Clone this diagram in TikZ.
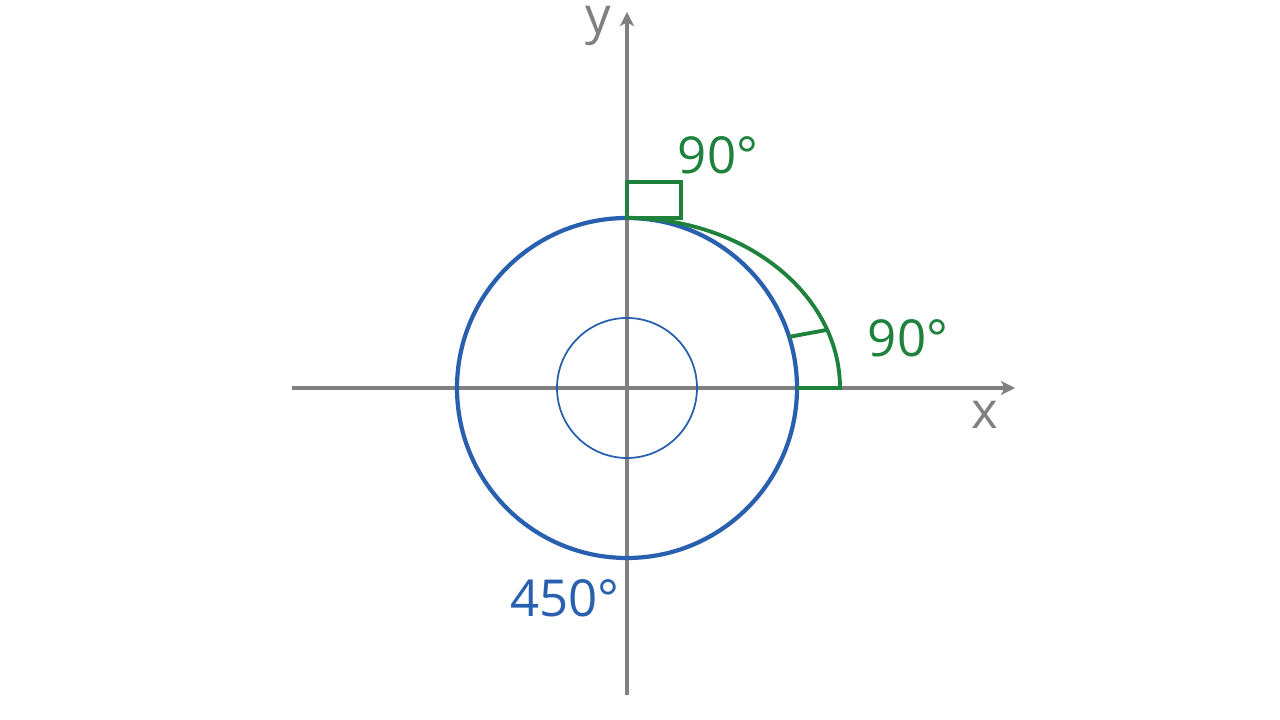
\documentclass[tikz,border=0pt]{standalone}
\usepackage{fontspec}
\setmainfont{Open Sans}
\usetikzlibrary{arrows.meta}
\definecolor{axisgray}{RGB}{128,128,128}
\definecolor{turnblue}{RGB}{40,95,175}
\definecolor{anglegreen}{RGB}{30,130,60}
\tikzset{
    axis/.style={draw=axisgray,line width=0.9pt,-{Stealth[length=4pt,width=4pt,inset=1pt]}},
    greenline/.style={draw=anglegreen,line width=1.1pt},
    lbl/.style={font=\fontsize{14.5}{16}\selectfont},
}
\begin{document}
\begin{tikzpicture}
        \useasboundingbox (-6.27,-3.32) rectangle (6.53,3.88);
        \coordinate (xl) at (-3.35,0);
        \coordinate (xr) at (3.88,0);
        \coordinate (yb) at (0,-3.07);
        \coordinate (yt) at (0,3.76);
        \draw [axis] (xl) -- (xr);
        \draw [axis] (yb) -- (yt);
        \node [lbl,text=axisgray] (xlab) at (3.58,-0.27) {x};
        \node [lbl,text=axisgray] (ylab) at (-0.29,3.62) {y};
        \draw [turnblue,line width=1.2pt] (0,0) circle (1.70);
        \draw [turnblue,line width=0.5pt] (0,0) circle (0.70);
        \draw [greenline] (0,1.70) arc [start angle=90,end angle=0,x radius=2.13,y radius=1.70] -- (1.70,0);
        \draw [greenline] (0,1.70) rectangle (0.54,2.06);
        \draw [greenline] (17.5:1.70) -- ({2.13*cos(20)},{1.70*sin(20)});
        \node [lbl,text=anglegreen] (topangle) at (0.91,2.33) {90°};
        \node [lbl,text=anglegreen] (sideangle) at (2.81,0.50) {90°};
        \node [lbl,text=turnblue] (total) at (-0.62,-2.10) {450°};
    \end{tikzpicture}
\end{document}
